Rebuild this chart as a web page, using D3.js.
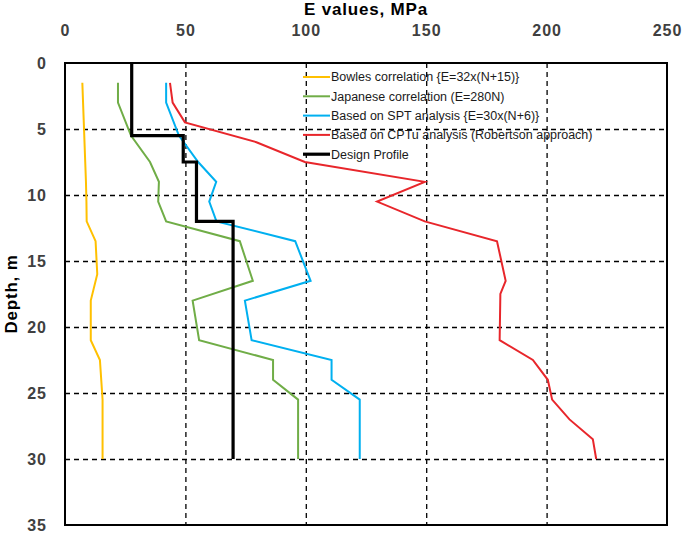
<!DOCTYPE html>
<html>
<head>
<meta charset="utf-8">
<script src="https://cdn.jsdelivr.net/npm/d3@7"></script>
<style>
  body { margin: 0; background: #fff; }
  svg { display: block; font-family: "Liberation Sans", Arial, sans-serif; }
</style>
</head>
<body>
<div id="chart"></div>
<script>
// depth (m) and E (MPa)
const bowlesDepth = [1.5, 3, 5.5, 7.5, 9, 10.5, 12, 13.5, 16, 18, 21, 22.5, 25.5, 30];
const bowlesE     = [7.2, 7.5, 8, 8.4, 8.7, 8.9, 9, 12.7, 13.4, 10.7, 10.7, 14.5, 15.6, 15.6];

const japDepth = [1.5, 3, 5.5, 7.5, 9, 10.5, 12, 13.5, 16.5, 18, 21, 22.5, 24, 25.5, 30];
const japE     = [22, 22, 27.4, 35.3, 39, 38.7, 42, 72.6, 78, 53, 55.7, 86.4, 86.4, 96.8, 96.8];

const sptDepth = [1.5, 3, 5.5, 7.5, 9, 10.5, 12, 13.5, 16.5, 18, 21, 22.5, 24, 25.5, 30];
const sptE     = [42, 42, 47.3, 55.3, 62.8, 59.9, 62.9, 95.6, 102, 74.7, 77.5, 110.7, 110.7, 122.4, 122.4];

const cptDepth = [1.5, 3, 4.5, 6, 7.5, 9, 10.5, 12, 13.5, 16.5, 17.5, 21, 22.5, 24, 25.5, 27, 28.5, 30];
const cptE     = [43.6, 44.7, 49.8, 79.5, 99.6, 149.4, 129.6, 149.4, 179.4, 183, 180.8, 180.5, 194.3, 200.5, 202.3, 209.5, 219.2, 220.6];

const designDepth = [0, 5.5, 7.5, 12, 30];
const designE     = [27.7, 49.1, 54.6, 69.8, 69.8];

const xTicks = [0, 50, 100, 150, 200, 250];
const yTicks = [0, 5, 10, 15, 20, 25, 30, 35];

const series = [
  { name: "Bowles correlation {E=32x(N+15)}", depth: bowlesDepth, e: bowlesE, color: "#FFC000", w: 2 },
  { name: "Japanese correlation (E=280N)", depth: japDepth, e: japE, color: "#70AD47", w: 2 },
  { name: "Based on SPT analysis {E=30x(N+6)}", depth: sptDepth, e: sptE, color: "#00B0F0", w: 2 },
  { name: "Based on CPTu analysis (Robertson approach)", depth: cptDepth, e: cptE, color: "#E8262B", w: 2 },
  { name: "Design Profile", depth: designDepth, e: designE, color: "#000000", w: 3.2, step: true }
];

const W = 685, H = 533;
const margin = { top: 63, right: 18, bottom: 8, left: 65 };
const width = W - margin.left - margin.right;
const height = H - margin.top - margin.bottom;

const svg = d3.select("#chart").append("svg")
  .attr("width", W)
  .attr("height", H);

const g = svg.append("g")
  .attr("transform", "translate(" + margin.left + "," + margin.top + ")");

const x = d3.scaleLinear().domain([0, 250]).range([0, width]);
const y = d3.scaleLinear().domain([0, 35]).range([0, height]);

// top axis with vertical grid
const xAxis = g.append("g")
  .call(d3.axisTop(x).tickValues(xTicks).tickSize(-height).tickPadding(27));
xAxis.select(".domain").remove();
xAxis.selectAll(".tick line")
  .attr("stroke", "#000").attr("stroke-width", 1.3).attr("stroke-dasharray", "5,4")
  .filter(d => d === 0 || d === 250).remove();
xAxis.selectAll(".tick text")
  .attr("fill", "#404040").style("font-size", "16px").style("font-weight", "bold")
  .style("letter-spacing", "1px");

// left axis with horizontal grid
const yAxis = g.append("g")
  .call(d3.axisLeft(y).tickValues(yTicks).tickSize(-width).tickPadding(18));
yAxis.select(".domain").remove();
yAxis.selectAll(".tick line")
  .attr("stroke", "#000").attr("stroke-width", 1.3).attr("stroke-dasharray", "5,4")
  .filter(d => d === 0 || d === 35).remove();
yAxis.selectAll(".tick text")
  .attr("fill", "#404040").style("font-size", "16px").style("font-weight", "bold")
  .style("letter-spacing", "1px");

// plot border
g.append("rect")
  .attr("width", width).attr("height", height)
  .attr("fill", "none").attr("stroke", "#000").attr("stroke-width", 2);

// axis titles
svg.append("text")
  .attr("x", margin.left + width / 2).attr("y", 15)
  .attr("text-anchor", "middle")
  .style("font-size", "17px").style("font-weight", "bold").style("letter-spacing", "0.8px")
  .text("E values, MPa");

svg.append("text")
  .attr("transform", "translate(17," + (margin.top + height / 2) + ")rotate(-90)")
  .attr("text-anchor", "middle")
  .style("font-size", "17px").style("font-weight", "bold").style("letter-spacing", "0.8px")
  .text("Depth, m");

// lines
series.forEach(s => {
  const pts = s.depth.map((d, i) => [s.e[i], d]);
  const line = d3.line()
    .x(p => x(p[0]))
    .y(p => y(p[1]))
    .curve(s.step ? d3.curveStepBefore : d3.curveLinear);
  g.append("path")
    .datum(pts)
    .attr("d", line)
    .attr("fill", "none")
    .attr("stroke", s.color)
    .attr("stroke-width", s.w)
    .attr("stroke-linejoin", "miter");
});

// legend
const legend = svg.append("g").attr("transform", "translate(303,77)");
series.forEach((s, i) => {
  const row = legend.append("g").attr("transform", "translate(0," + (i * 19.3) + ")");
  row.append("line")
    .attr("x1", 0).attr("x2", 27)
    .attr("stroke", s.color).attr("stroke-width", s.w);
  row.append("text")
    .attr("x", 28).attr("dy", "0.35em")
    .style("font-size", "12.5px").attr("fill", "#1a1a1a")
    .text(s.name);
});
</script>
</body>
</html>
